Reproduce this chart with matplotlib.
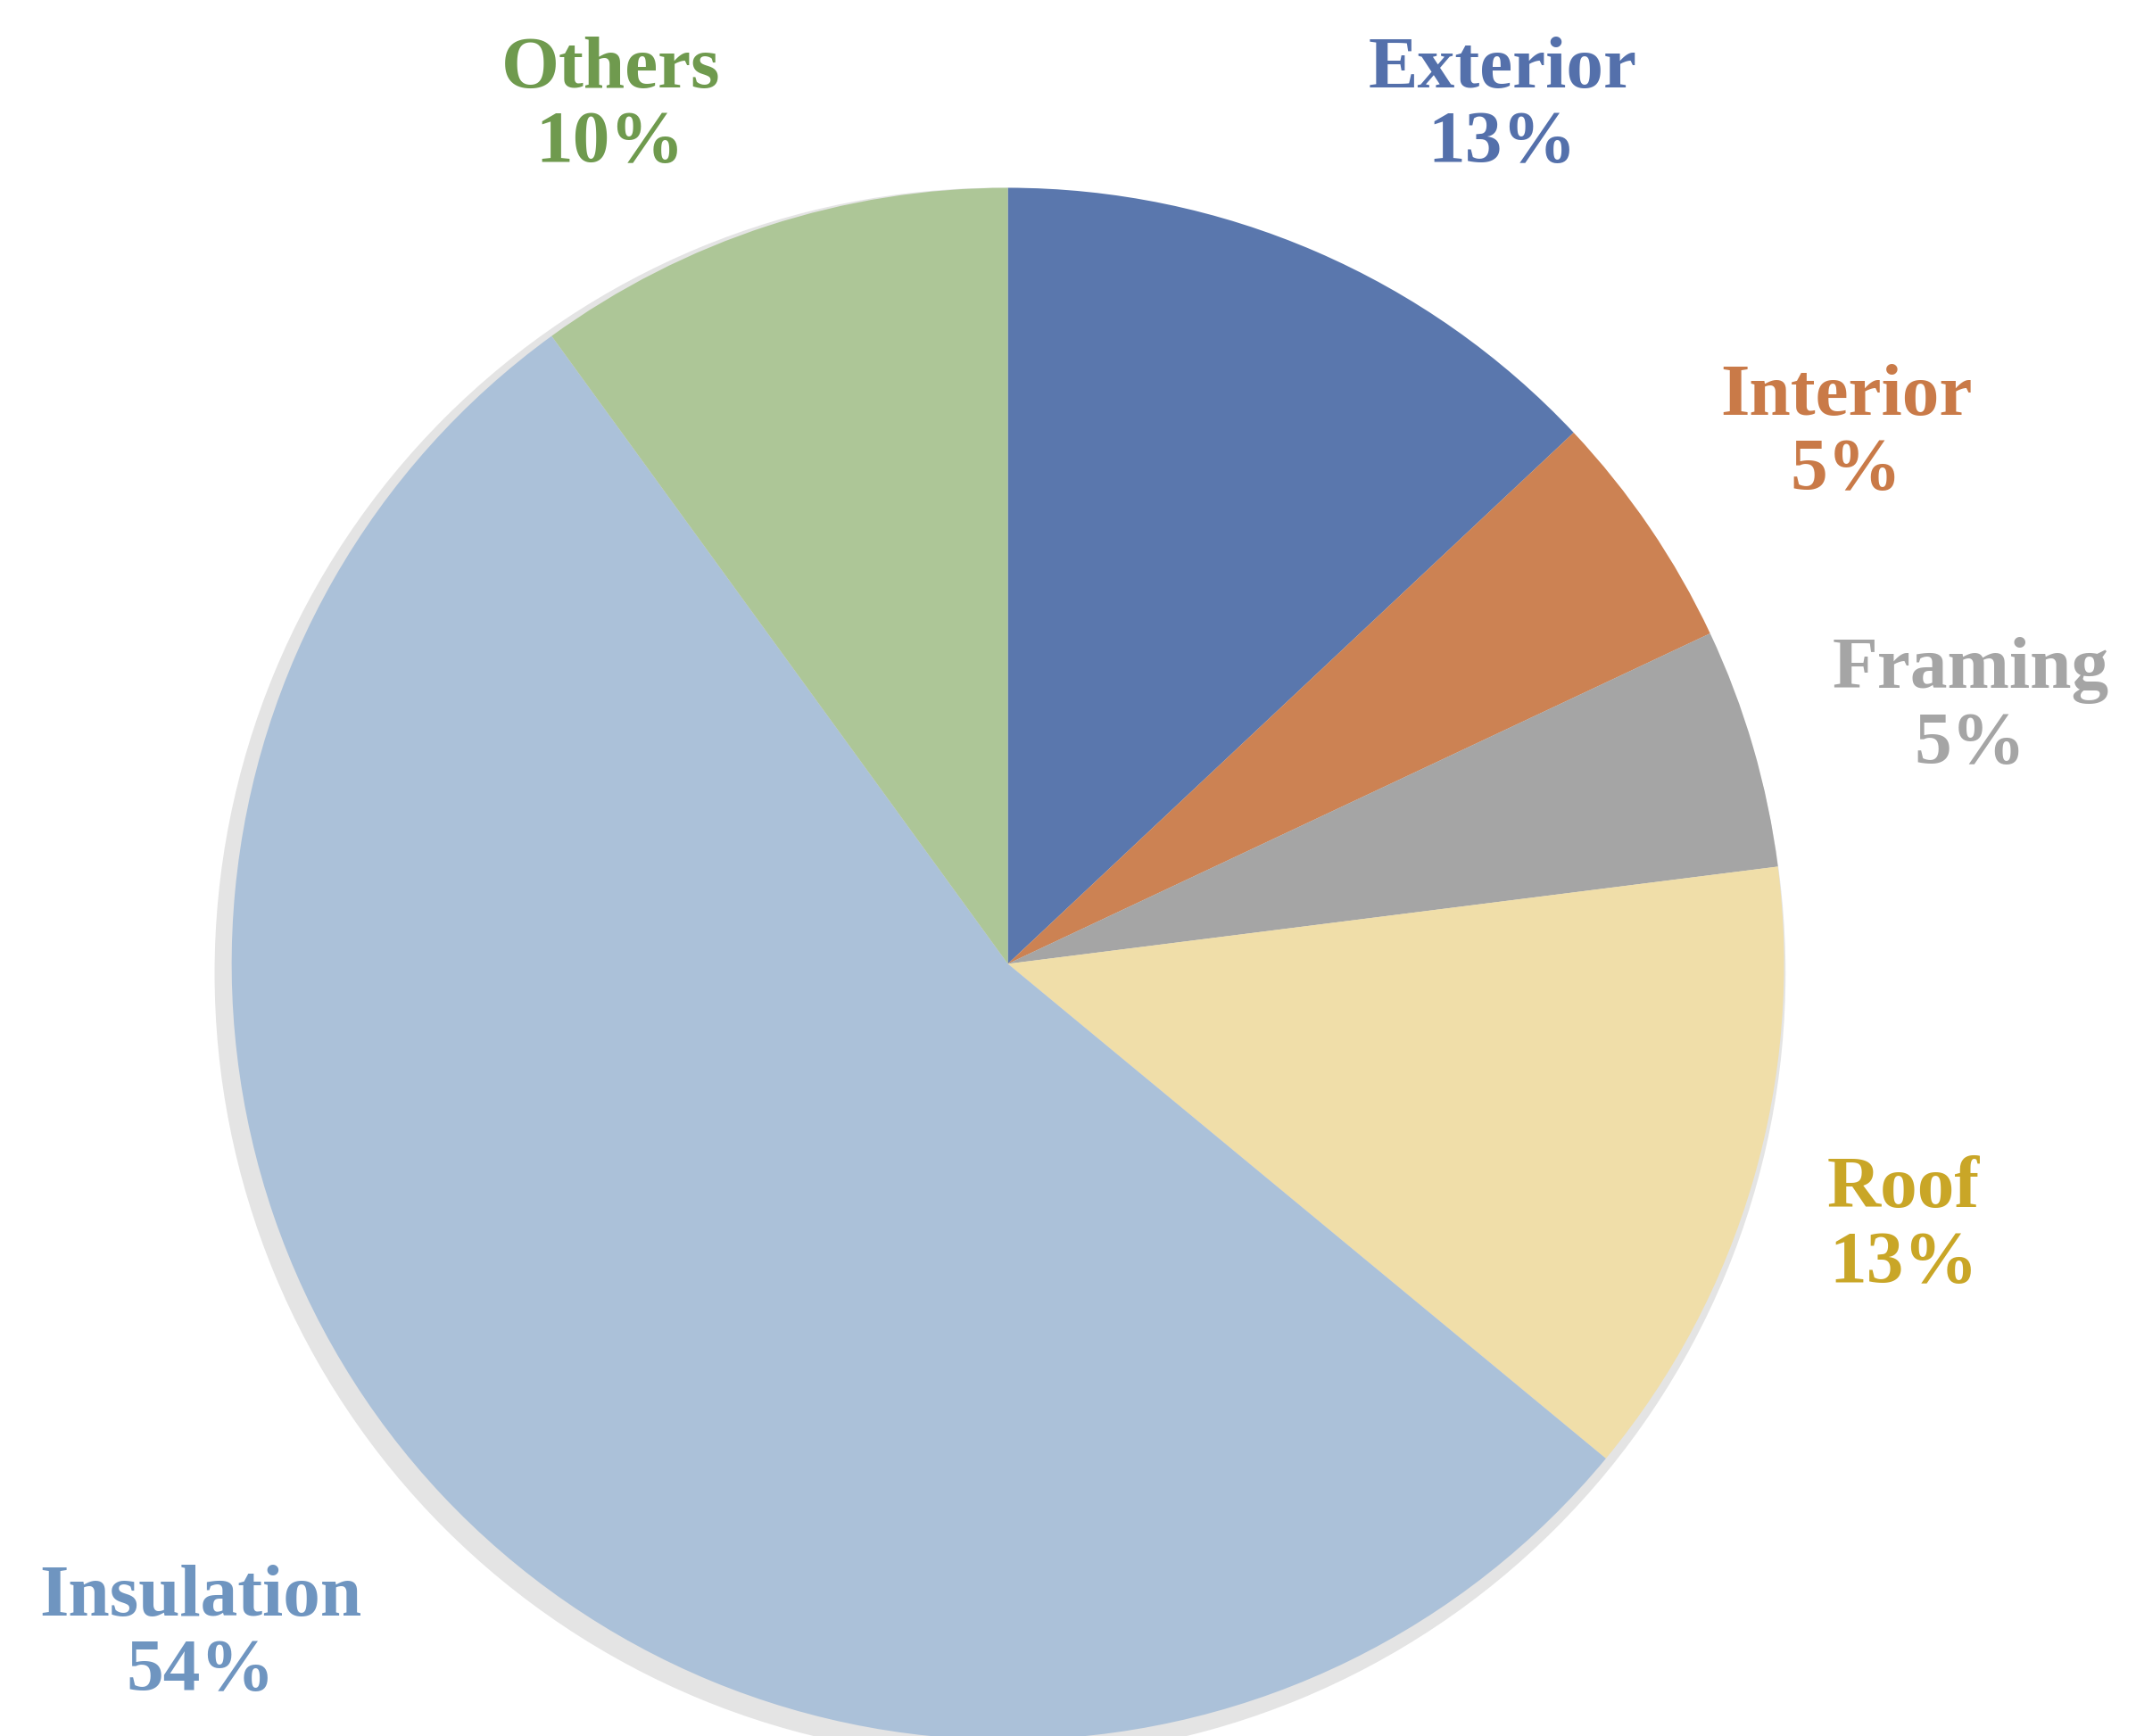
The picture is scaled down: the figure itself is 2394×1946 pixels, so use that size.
import matplotlib.pyplot as plt

labels = ["Exterior", "Interior", "Framing", "Roof", "Insulation", "Others"]
shares = [13, 5, 5, 13, 54, 10]
wedge_colors = ["#5a77ad", "#cc8253", "#a5a5a5", "#f0dea9", "#abc1d9", "#adc697"]
text_colors = ["#5470ab", "#c97a48", "#a5a5a5", "#c9a627", "#6f95c0", "#6f9a4e"]
# label centres in pie-radius units
label_pos = [(0.637, 1.104), (1.08, 0.682), (1.24, 0.33),
             (1.154, -0.339), (-1.04, -0.865), (-0.512, 1.104)]

fig = plt.figure(figsize=(23.94, 19.46), dpi=100)
ax = fig.add_axes([0, 0, 1, 1])

# soft shadow
ax.pie([1], radius=1.012, colors=["#e4e4e4"], center=(-0.01, -0.012),
       wedgeprops=dict(linewidth=0))
ax.pie(shares, colors=wedge_colors, startangle=90, counterclock=False,
       wedgeprops=dict(linewidth=0))

for lab, s, c, (x, y) in zip(labels, shares, text_colors, label_pos):
    ax.text(x, y, f"{lab}\n{s}%", color=c, ha="center", va="center",
            fontsize=60, fontweight="bold", family="Liberation Serif",
            linespacing=1.15)

ax.set_xlim(-1.298, 1.453)
ax.set_ylim(-0.995, 1.242)
ax.set_aspect("equal")
ax.axis("off")
fig.savefig("out.png", dpi=100)
